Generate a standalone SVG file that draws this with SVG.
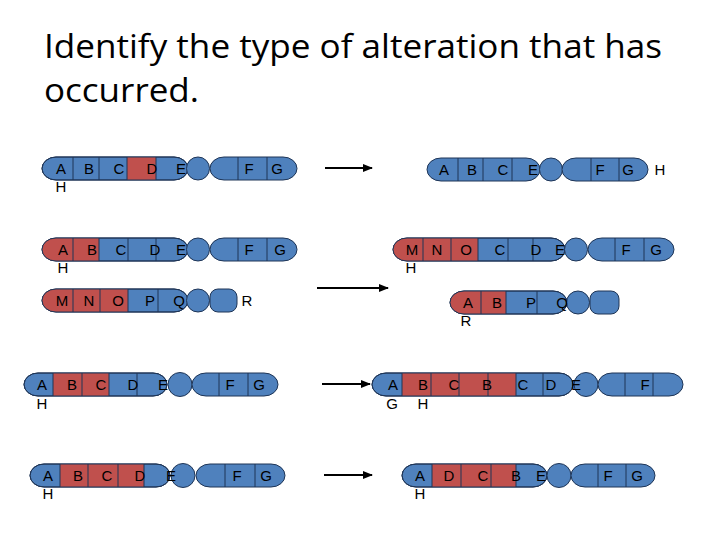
<svg xmlns="http://www.w3.org/2000/svg" width="720" height="540" viewBox="0 0 720 540">
<style>
.arm{fill:#4f81bd;stroke:#1f3556;stroke-width:1}
.armo{fill:none;stroke:#1f3556;stroke-width:1}
.red{fill:#c0504d}
.ln{stroke:#1f3556;stroke-width:1}
.cen{fill:#4f81bd;stroke:#1f3556;stroke-width:1}
text.l{font-family:"Liberation Sans",Arial,sans-serif;font-size:15px;fill:#000;text-anchor:middle}
.title{font-family:"Open Sans","Liberation Sans",sans-serif;font-size:33px;fill:#000}
.ar{stroke:#000;stroke-width:2;fill:none;marker-end:url(#ah)}
</style>
<defs>
<marker id="ah" viewBox="0 0 10 10" refX="9" refY="5" markerWidth="5" markerHeight="5" orient="auto"><path d="M0,1 L10,5 L0,9 z" fill="#000"/></marker>
<clipPath id="c1"><rect x="42" y="157" width="146" height="23" rx="14" ry="11.5"/></clipPath>
<clipPath id="c2"><rect x="42" y="238" width="146" height="23" rx="14" ry="11.5"/></clipPath>
<clipPath id="c3"><rect x="42" y="289" width="146" height="23" rx="14" ry="11.5"/></clipPath>
<clipPath id="c5"><rect x="393" y="238" width="172" height="23" rx="14" ry="11.5"/></clipPath>
<clipPath id="c6"><rect x="450" y="291" width="117" height="23" rx="14" ry="11.5"/></clipPath>
<clipPath id="c7"><rect x="24" y="373" width="143" height="23" rx="14" ry="11.5"/></clipPath>
<clipPath id="c8"><rect x="30" y="464" width="140" height="23" rx="14" ry="11.5"/></clipPath>
<clipPath id="c9"><rect x="372" y="373" width="201" height="23" rx="14" ry="11.5"/></clipPath>
<clipPath id="c10"><rect x="402" y="464" width="145" height="23" rx="14" ry="11.5"/></clipPath>
</defs>

<text class="title" x="44" y="58" textLength="618" lengthAdjust="spacingAndGlyphs">Identify the type of alteration that has</text>
<text class="title" x="44" y="102" textLength="155" lengthAdjust="spacingAndGlyphs">occurred.</text>

<g id="connectors">
<line class="ar" x1="325" y1="168" x2="372" y2="168"/>
<line class="ar" x1="317" y1="288" x2="388" y2="288"/>
<line class="ar" x1="322" y1="384" x2="370" y2="384"/>
<line class="ar" x1="324" y1="475" x2="372" y2="475"/>
</g>

<g id="chr1">
<rect class="arm" x="42" y="157" width="146" height="23" rx="14" ry="11.5"/>
<rect class="red" x="127" y="157" width="29" height="23" clip-path="url(#c1)"/>
<path class="ln" d="M73,157V180M99,157V180M127,157V180M156,157V180"/>
<rect class="armo" x="42" y="157" width="146" height="23" rx="14" ry="11.5"/>
<circle class="cen" cx="198" cy="168.5" r="11.5"/>
<rect class="arm" x="210" y="157" width="87" height="23" rx="14" ry="11.5"/>
<path class="ln" d="M238,157V180M267,157V180"/>
<text class="l" x="61" y="174">A</text><text class="l" x="89" y="174">B</text><text class="l" x="119" y="174">C</text><text class="l" x="152" y="174">D</text><text class="l" x="181" y="174">E</text><text class="l" x="249" y="174">F</text><text class="l" x="277" y="174">G</text>
<text class="l" x="61" y="192">H</text>
</g>

<g id="chr2">
<rect class="arm" x="42" y="238" width="146" height="23" rx="14" ry="11.5"/>
<rect class="red" x="42" y="238" width="57" height="23" clip-path="url(#c2)"/>
<path class="ln" d="M73,238V261M99,238V261M128,238V261M156,238V261"/>
<rect class="armo" x="42" y="238" width="146" height="23" rx="14" ry="11.5"/>
<circle class="cen" cx="198" cy="249.5" r="11.5"/>
<rect class="arm" x="210" y="238" width="87" height="23" rx="14" ry="11.5"/>
<path class="ln" d="M238,238V261M267,238V261"/>
<text class="l" x="63" y="255">A</text><text class="l" x="92" y="255">B</text><text class="l" x="121" y="255">C</text><text class="l" x="155" y="255">D</text><text class="l" x="181" y="255">E</text><text class="l" x="249" y="255">F</text><text class="l" x="280" y="255">G</text>
<text class="l" x="63" y="273">H</text>
</g>

<g id="chr3">
<rect class="arm" x="42" y="289" width="146" height="23" rx="14" ry="11.5"/>
<rect class="red" x="42" y="289" width="86" height="23" clip-path="url(#c3)"/>
<path class="ln" d="M73,289V312M100,289V312M128,289V312M158,289V312"/>
<rect class="armo" x="42" y="289" width="146" height="23" rx="14" ry="11.5"/>
<circle class="cen" cx="198" cy="300.5" r="11.5"/>
<rect class="arm" x="210" y="289" width="27" height="23" rx="8" ry="8"/>
<text class="l" x="62" y="306">M</text><text class="l" x="89" y="306">N</text><text class="l" x="118" y="306">O</text><text class="l" x="150" y="306">P</text><text class="l" x="179" y="306">Q</text><text class="l" x="247" y="306">R</text>
</g>

<g id="chr4">
<rect class="arm" x="427" y="158" width="113" height="23" rx="14" ry="11.5"/>
<path class="ln" d="M458,158V181M483,158V181M512,158V181"/>
<circle class="cen" cx="551" cy="169.5" r="11.5"/>
<rect class="arm" x="562" y="158" width="86" height="23" rx="14" ry="11.5"/>
<path class="ln" d="M591,158V181M619,158V181"/>
<text class="l" x="444" y="175">A</text><text class="l" x="472" y="175">B</text><text class="l" x="503" y="175">C</text><text class="l" x="533" y="175">E</text><text class="l" x="600" y="175">F</text><text class="l" x="628" y="175">G</text><text class="l" x="660" y="175">H</text>
</g>

<g id="chr5">
<rect class="arm" x="393" y="238" width="172" height="23" rx="14" ry="11.5"/>
<rect class="red" x="393" y="238" width="85" height="23" clip-path="url(#c5)"/>
<path class="ln" d="M423,238V261M451,238V261M478,238V261M508,238V261M533,238V261"/>
<rect class="armo" x="393" y="238" width="172" height="23" rx="14" ry="11.5"/>
<circle class="cen" cx="576" cy="249.5" r="11.5"/>
<rect class="arm" x="588" y="238" width="86" height="23" rx="14" ry="11.5"/>
<path class="ln" d="M615,238V261M644,238V261"/>
<text class="l" x="412" y="255">M</text><text class="l" x="437" y="255">N</text><text class="l" x="466" y="255">O</text><text class="l" x="500" y="255">C</text><text class="l" x="536" y="255">D</text><text class="l" x="560" y="255">E</text><text class="l" x="626" y="255">F</text><text class="l" x="656" y="255">G</text>
<text class="l" x="411" y="273">H</text>
</g>

<g id="chr6">
<rect class="arm" x="450" y="291" width="117" height="23" rx="14" ry="11.5"/>
<rect class="red" x="450" y="291" width="56" height="23" clip-path="url(#c6)"/>
<path class="ln" d="M481,291V314M506,291V314M537,291V314"/>
<rect class="armo" x="450" y="291" width="117" height="23" rx="14" ry="11.5"/>
<circle class="cen" cx="578" cy="302.5" r="11.5"/>
<rect class="arm" x="590" y="291" width="29" height="23" rx="8" ry="8"/>
<text class="l" x="468" y="308">A</text><text class="l" x="497" y="308">B</text><text class="l" x="531" y="308">P</text><text class="l" x="562" y="308">Q</text>
<text class="l" x="466" y="326">R</text>
</g>

<g id="chr7">
<rect class="arm" x="24" y="373" width="143" height="23" rx="14" ry="11.5"/>
<rect class="red" x="53" y="373" width="56" height="23" clip-path="url(#c7)"/>
<path class="ln" d="M53,373V396M82,373V396M109,373V396M137,373V396"/>
<rect class="armo" x="24" y="373" width="143" height="23" rx="14" ry="11.5"/>
<circle class="cen" cx="180" cy="384.5" r="12"/>
<rect class="arm" x="192" y="373" width="86" height="23" rx="14" ry="11.5"/>
<path class="ln" d="M219,373V396M248,373V396"/>
<text class="l" x="42" y="390">A</text><text class="l" x="72" y="390">B</text><text class="l" x="101" y="390">C</text><text class="l" x="133" y="390">D</text><text class="l" x="163" y="390">E</text><text class="l" x="230" y="390">F</text><text class="l" x="259" y="390">G</text>
<text class="l" x="42" y="409">H</text>
</g>

<g id="chr8">
<rect class="arm" x="30" y="464" width="140" height="23" rx="14" ry="11.5"/>
<rect class="red" x="60" y="464" width="84" height="23" clip-path="url(#c8)"/>
<path class="ln" d="M60,464V487M88,464V487M118,464V487M144,464V487"/>
<rect class="armo" x="30" y="464" width="140" height="23" rx="14" ry="11.5"/>
<circle class="cen" cx="183" cy="475.5" r="12"/>
<rect class="arm" x="196" y="464" width="89" height="23" rx="14" ry="11.5"/>
<path class="ln" d="M225,464V487M255,464V487"/>
<text class="l" x="48" y="481">A</text><text class="l" x="78" y="481">B</text><text class="l" x="107" y="481">C</text><text class="l" x="140" y="481">D</text><text class="l" x="171" y="481">E</text><text class="l" x="237" y="481">F</text><text class="l" x="266" y="481">G</text>
<text class="l" x="48" y="499">H</text>
</g>

<g id="chr9">
<rect class="arm" x="372" y="373" width="201" height="23" rx="14" ry="11.5"/>
<rect class="red" x="402" y="373" width="114" height="23" clip-path="url(#c9)"/>
<path class="ln" d="M402,373V396M431,373V396M459,373V396M488,373V396M516,373V396M543,373V396"/>
<rect class="armo" x="372" y="373" width="201" height="23" rx="14" ry="11.5"/>
<circle class="cen" cx="586" cy="384.5" r="12"/>
<rect class="arm" x="598" y="373" width="85" height="23" rx="14" ry="11.5"/>
<path class="ln" d="M625,373V396M653,373V396"/>
<text class="l" x="393" y="390">A</text><text class="l" x="423" y="390">B</text><text class="l" x="454" y="390">C</text><text class="l" x="487" y="390">B</text><text class="l" x="523" y="390">C</text><text class="l" x="551" y="390">D</text><text class="l" x="576" y="390">E</text><text class="l" x="645" y="390">F</text>
<text class="l" x="392" y="409">G</text><text class="l" x="423" y="409">H</text>
</g>

<g id="chr10">
<rect class="arm" x="402" y="464" width="145" height="23" rx="14" ry="11.5"/>
<rect class="red" x="432" y="464" width="84" height="23" clip-path="url(#c10)"/>
<path class="ln" d="M432,464V487M461,464V487M491,464V487M516,464V487"/>
<rect class="armo" x="402" y="464" width="145" height="23" rx="14" ry="11.5"/>
<circle class="cen" cx="559" cy="475.5" r="12"/>
<rect class="arm" x="571" y="464" width="84" height="23" rx="14" ry="11.5"/>
<path class="ln" d="M598,464V487M626,464V487"/>
<text class="l" x="420" y="481">A</text><text class="l" x="449" y="481">D</text><text class="l" x="483" y="481">C</text><text class="l" x="516" y="481">B</text><text class="l" x="541" y="481">E</text><text class="l" x="608" y="481">F</text><text class="l" x="637" y="481">G</text>
<text class="l" x="420" y="499">H</text>
</g>
</svg>
